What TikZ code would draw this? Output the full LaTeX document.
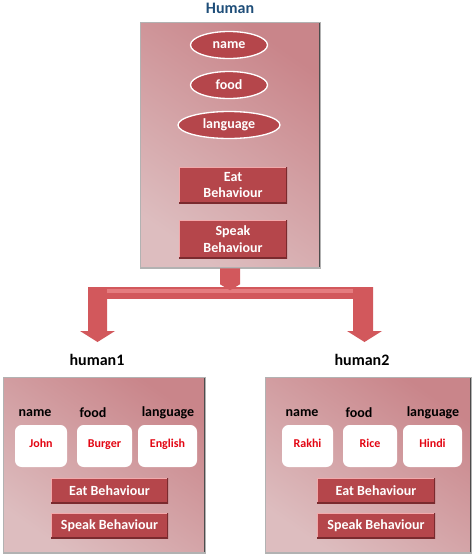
\documentclass[tikz,border=0pt]{standalone}
\usepackage{fontspec}
\setmainfont{Carlito}
\usepackage{tikz}
\usetikzlibrary{shapes.geometric, positioning, calc}

\definecolor{boxlight}{HTML}{DDBDBF}
\definecolor{boxdark}{HTML}{C9858A}
\definecolor{behfill}{HTML}{B5464B}
\definecolor{behlight}{HTML}{F2A9AB}
\definecolor{behdark}{HTML}{7A2A2E}
\definecolor{arrowfill}{HTML}{D2585C}
\definecolor{arrowlight}{HTML}{E57C7F}
\definecolor{titleblue}{HTML}{1F4E79}
\definecolor{valred}{HTML}{E30613}

\begin{document}
\begin{tikzpicture}[
    x=0.75pt, y=-0.75pt,
    classbox/.style={rectangle, draw=gray!60, shading=axis, top color=boxdark, bottom color=boxlight, shading angle=-35, inner sep=0pt,
        path picture={\draw[black!70, line width=1.2pt] (path picture bounding box.north east) -- (path picture bounding box.south east);
                      \draw[gray!60, line width=1.2pt] (path picture bounding box.south west) -- (path picture bounding box.south east);}},
    attr/.style={ellipse, draw=white, line width=1pt, fill=behfill, text=white, inner sep=0pt, minimum height=27*0.75pt, font=\fontsize{10.5}{12}\selectfont\bfseries},
    behaviour/.style={rectangle, draw=none, fill=behfill, text=white, align=center, inner sep=0pt, font=\fontsize{10.5}{12.5}\selectfont\bfseries,
        path picture={\draw[behlight, line width=1.6pt] (path picture bounding box.south west) -- (path picture bounding box.north west) -- (path picture bounding box.north east);
                      \draw[behdark, line width=1.6pt] (path picture bounding box.north east) -- (path picture bounding box.south east) -- (path picture bounding box.south west);}},
    valbox/.style={rectangle, rounded corners=5pt, fill=white, text=valred, inner sep=0pt, text height=7pt, text depth=5pt, minimum width=52*0.75pt, minimum height=42*0.75pt, font=\fontsize{9}{11}\selectfont\bfseries},
    field/.style={font=\fontsize{10.5}{12}\selectfont\bfseries, inner sep=0pt},
    title/.style={font=\fontsize{12}{14}\selectfont\bfseries, inner sep=0pt},
    fatarrow/.style={fill=arrowfill, draw=none}
]
    \useasboundingbox (0,0) rectangle (474,558);

    % Class Human
    \node (human) [classbox, minimum width=180*0.75pt, minimum height=246*0.75pt] at (230,145) {};
    \node (humantitle) [title, text=titleblue] at (230,8) {Human};
    \node (name) [attr, minimum width=77*0.75pt] at (229,45) {name};
    \node (food) [attr, minimum width=77*0.75pt] at (229,85) {food};
    \node (language) [attr, minimum width=102*0.75pt] at (229,125) {language};
    \node (eat) [behaviour, minimum width=108*0.75pt, minimum height=36*0.75pt] at (233,185) {Eat\\Behaviour};
    \node (speak) [behaviour, minimum width=108*0.75pt, minimum height=38*0.75pt] at (233,239) {Speak\\Behaviour};

    % Object human1
    \node (objA) [classbox, minimum width=202*0.75pt, minimum height=176*0.75pt] at (104,465) {};
    \node (objAtitle) [title] at (97,360) {human1};
    \node (nameA) [field] at (35,413) {name};
    \node (foodA) [field] at (93,413) {food};
    \node (langA) [field] at (168,413) {language};
    \node (valnameA) [valbox] at (41,446) {John};
    \node (valfoodA) [valbox, minimum width=55*0.75pt] at (104.5,446) {Burger};
    \node (vallangA) [valbox, minimum width=59*0.75pt] at (167.5,446) {English};
    \node (eatA) [behaviour, minimum width=117*0.75pt, minimum height=25*0.75pt] at (109.5,490.5) {Eat Behaviour};
    \node (speakA) [behaviour, minimum width=117*0.75pt, minimum height=25*0.75pt] at (109.5,525.5) {Speak Behaviour};

    % Object human2
    \node (objB) [classbox, minimum width=206*0.75pt, minimum height=176*0.75pt] at (368,465) {};
    \node (objBtitle) [title] at (362,360) {human2};
    \node (nameB) [field] at (302,413) {name};
    \node (foodB) [field] at (359,413) {food};
    \node (langB) [field] at (433,413) {language};
    \node (valnameB) [valbox, minimum width=51*0.75pt] at (307.5,446) {Rakhi};
    \node (valfoodB) [valbox, minimum width=54*0.75pt] at (370,446) {Rice};
    \node (vallangB) [valbox, minimum width=59*0.75pt] at (432.5,446) {Hindi};
    \node (eatB) [behaviour, minimum width=118*0.75pt, minimum height=25*0.75pt] at (376,490.5) {Eat Behaviour};
    \node (speakB) [behaviour, minimum width=118*0.75pt, minimum height=25*0.75pt] at (376,525.5) {Speak Behaviour};

    % Branching arrow
    \coordinate (split) at ($(human.south)+(0,22)$);
    \coordinate (tipA) at (97.5,342);
    \coordinate (tipB) at (364.5,342);
    \fill[fatarrow] ($(tipA)+(-9.5,-55)$) rectangle ($(tipB)+(8.5,-43)$);
    \fill[fatarrow] ($(tipA)+(-9.5,-55)$) -- ($(tipA)+(-9.5,-11)$) -- ($(tipA)+(-17.5,-11)$) -- (tipA)
        -- ($(tipA)+(17.5,-11)$) -- ($(tipA)+(9.5,-11)$) -- ($(tipA)+(9.5,-55)$) -- cycle;
    \fill[fatarrow] ($(tipB)+(-11.5,-55)$) -- ($(tipB)+(-11.5,-11)$) -- ($(tipB)+(-17.5,-11)$) -- (tipB)
        -- ($(tipB)+(17.5,-11)$) -- ($(tipB)+(8.5,-11)$) -- ($(tipB)+(8.5,-55)$) -- cycle;
    \fill[arrowlight] ($(tipA)+(9.5,-53)$) rectangle ($(tipB)+(-11.5,-49)$);
    \fill[fatarrow] ($(human.south)+(-10,0)$) -- ($(split)+(-10,-6)$) -- (split) -- ($(split)+(10,-6)$) -- ($(human.south)+(10,0)$) -- cycle;

\end{tikzpicture}
\end{document}
